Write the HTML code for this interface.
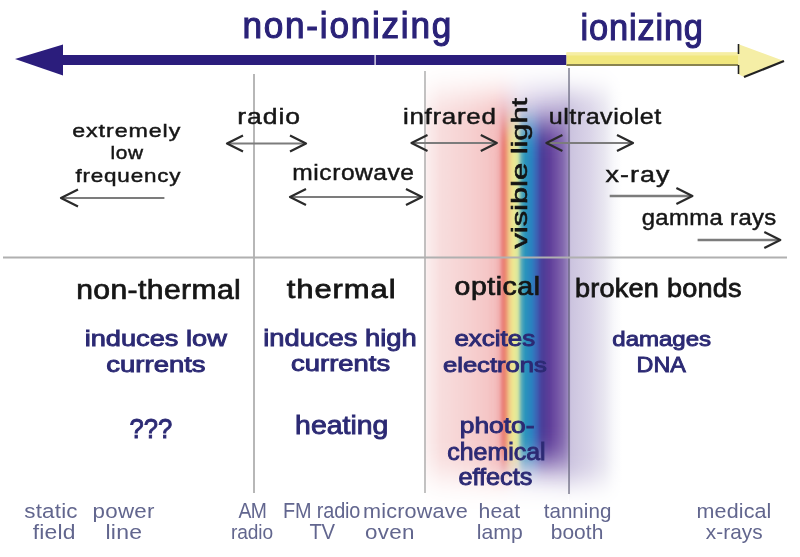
<!DOCTYPE html>
<html><head><meta charset="utf-8"><style>
html,body{margin:0;padding:0;background:#fff;}
svg{display:block;filter:blur(0.3px);}
text{font-family:"Liberation Sans",sans-serif;}
</style></head><body>
<svg width="800" height="557" viewBox="0 0 800 557">
<rect width="800" height="557" fill="#fff"/>

<defs>
 <linearGradient id="soft" x1="425" y1="0" x2="569" y2="0" gradientUnits="userSpaceOnUse"><stop offset="0.0000" stop-color="#fbf0f0"/>
<stop offset="0.1042" stop-color="#f8dede"/>
<stop offset="0.3125" stop-color="#f6d0d0"/>
<stop offset="0.4861" stop-color="#f4c2c2"/>
<stop offset="0.5347" stop-color="#eebcc4"/>
<stop offset="0.6597" stop-color="#d8c8e0"/>
<stop offset="0.7986" stop-color="#c4b8dc"/>
<stop offset="0.9965" stop-color="#b4a8d0"/>
<stop offset="1.0000" stop-color="#b4a8d0"/></linearGradient>
 <linearGradient id="lav" x1="569" y1="0" x2="622" y2="0" gradientUnits="userSpaceOnUse"><stop offset="0.0000" stop-color="#cac2de"/>
<stop offset="0.3962" stop-color="#dad4e8"/>
<stop offset="0.6604" stop-color="#e8e6f0"/>
<stop offset="0.8491" stop-color="#f8f8fb"/>
<stop offset="1.0000" stop-color="#ffffff"/></linearGradient>
 <linearGradient id="core" x1="494" y1="0" x2="569" y2="0" gradientUnits="userSpaceOnUse"><stop offset="0.0000" stop-color="#f4c0c0"/>
<stop offset="0.0667" stop-color="#f2b0b0"/>
<stop offset="0.1200" stop-color="#e87a74"/>
<stop offset="0.1600" stop-color="#ec9070"/>
<stop offset="0.2000" stop-color="#f0c888"/>
<stop offset="0.2533" stop-color="#f0e890"/>
<stop offset="0.3200" stop-color="#d8e8a0"/>
<stop offset="0.3600" stop-color="#60b0b8"/>
<stop offset="0.4133" stop-color="#2894bc"/>
<stop offset="0.5067" stop-color="#2c80c0"/>
<stop offset="0.5733" stop-color="#3c60b4"/>
<stop offset="0.6400" stop-color="#4a3c98"/>
<stop offset="0.7333" stop-color="#5c3c98"/>
<stop offset="0.8267" stop-color="#7050a4"/>
<stop offset="0.9200" stop-color="#8268ae"/>
<stop offset="0.9933" stop-color="#9c88c0"/>
<stop offset="1.0000" stop-color="#9c88c0"/></linearGradient>
 <filter id="mb" x="-50%" y="-50%" width="200%" height="200%"><feGaussianBlur stdDeviation="16"/></filter>
 <filter id="mb2" x="-50%" y="-50%" width="200%" height="200%"><feGaussianBlur stdDeviation="14"/></filter>
 <mask id="m1" maskUnits="userSpaceOnUse" x="0" y="0" width="800" height="557">
  <rect x="395" y="95" width="265" height="380" fill="#fff" filter="url(#mb)"/>
 </mask>
 <mask id="m2" maskUnits="userSpaceOnUse" x="0" y="0" width="800" height="557">
  <rect x="470" y="125" width="160" height="335" fill="#fff" filter="url(#mb2)"/>
 </mask>
 <filter id="mb3" x="-50%" y="-50%" width="200%" height="200%"><feGaussianBlur stdDeviation="12"/></filter>
 <mask id="m3" maskUnits="userSpaceOnUse" x="0" y="0" width="800" height="557">
  <rect x="520" y="92" width="140" height="390" fill="#fff" filter="url(#mb3)"/>
 </mask>
 <filter id="bl" x="-20%" y="-20%" width="140%" height="140%"><feGaussianBlur stdDeviation="0.8"/></filter>
</defs>
<g mask="url(#m1)"><rect x="425" y="40" width="144" height="480" fill="url(#soft)" filter="url(#bl)"/></g>
<g mask="url(#m3)"><rect x="569" y="40" width="60" height="480" fill="url(#lav)"/></g>
<g mask="url(#m2)"><rect x="490" y="40" width="79" height="480" fill="url(#core)" filter="url(#bl)"/></g>

<line x1="254" y1="74" x2="254" y2="493" stroke="#7c7c7c" stroke-width="1.1"/>
<line x1="425" y1="71" x2="425" y2="493" stroke="#9a9a9a" stroke-width="1.2"/>
<line x1="569" y1="68" x2="569" y2="494" stroke="#50506a" stroke-width="1.1"/>
<line x1="3" y1="257.5" x2="787" y2="257.5" stroke="#b0b0b0" stroke-width="2.2"/>
<rect x="60" y="55" width="506.5" height="10" fill="#2b1d7c"/>
<rect x="374.5" y="54" width="1.2" height="12" fill="#fff"/>
<polygon points="15,59 63,44.5 63,75.5" fill="#2b1d7c"/>
<rect x="566.5" y="52.5" width="172" height="13.5" fill="#f1e77e"/>
<rect x="566.5" y="52.5" width="172" height="3" fill="#f6eea4"/>
<rect x="566.5" y="64" width="172" height="2" fill="#8a8450"/>
<polygon points="738,44 784,61 744,77 738,74" fill="#f5eea6"/>
<line x1="784" y1="61" x2="744" y2="77" stroke="#222" stroke-width="2.2"/>
<line x1="738.5" y1="44" x2="738.5" y2="54" stroke="#222" stroke-width="1.6"/>
<line x1="738.5" y1="65" x2="738.5" y2="74" stroke="#222" stroke-width="1.6"/>
<path d="M164.4,198 L63,198" stroke="#7c7c7c" stroke-width="2.2" fill="none"/><path d="M78,189.5 L61,198 L78,206.5" stroke="#2a2a2a" stroke-width="2.2" fill="none" stroke-linejoin="round"/>
<path d="M229,143.5 L304,143.5" stroke="#7c7c7c" stroke-width="2.2" fill="none"/><path d="M243,135.5 L227,143.5 L243,151.5 M290,135.5 L306,143.5 L290,151.5" stroke="#2a2a2a" stroke-width="2.2" fill="none" stroke-linejoin="round"/>
<path d="M292,197 L420,197" stroke="#7c7c7c" stroke-width="2.2" fill="none"/><path d="M306,189 L290,197 L306,205 M406,189 L422,197 L406,205" stroke="#2a2a2a" stroke-width="2.2" fill="none" stroke-linejoin="round"/>
<path d="M413.5,143 L494.8,143" stroke="#7c7c7c" stroke-width="2.2" fill="none"/><path d="M427.5,135 L411.5,143 L427.5,151 M480.8,135 L496.8,143 L480.8,151" stroke="#2a2a2a" stroke-width="2.2" fill="none" stroke-linejoin="round"/>
<path d="M548.4,143 L631,143" stroke="#7c7c7c" stroke-width="2.2" fill="none"/><path d="M562.4,135 L546.4,143 L562.4,151 M617,135 L633,143 L617,151" stroke="#2a2a2a" stroke-width="2.2" fill="none" stroke-linejoin="round"/>
<path d="M609.7,196 L690.4,196" stroke="#7c7c7c" stroke-width="2.4" fill="none"/><path d="M676.4,188 L692.4,196 L676.4,204" stroke="#2a2a2a" stroke-width="2.2" fill="none" stroke-linejoin="round"/>
<path d="M697.6,240 L778.3,240" stroke="#7c7c7c" stroke-width="2.4" fill="none"/><path d="M764.3,232 L780.3,240 L764.3,248" stroke="#2a2a2a" stroke-width="2.2" fill="none" stroke-linejoin="round"/>
<text transform="translate(244.75,38.15) scale(0.9698,1)" x="-2.36" y="0" letter-spacing="1.810" font-size="36.25" font-weight="normal" fill="#2a2278" stroke="#2a2278" stroke-width="1.1">non-ionizing</text>
<text transform="translate(582.75,39.75) scale(0.9496,1)" x="-2.36" y="0" letter-spacing="0.872" font-size="36.25" font-weight="normal" fill="#2a2278" stroke="#2a2278" stroke-width="1.1">ionizing</text>
<text transform="translate(239.03,123.98) scale(1.2061,1)" x="-1.43" y="0" letter-spacing="0.752" font-size="22.03" font-weight="normal" fill="#161616" stroke="#161616" stroke-width="0.45">radio</text>
<text transform="translate(73.12,137.18) scale(1.2432,1)" x="-0.75" y="0" letter-spacing="0.755" font-size="18.68" font-weight="normal" fill="#161616" stroke="#161616" stroke-width="0.45">extremely</text>
<text transform="translate(111.92,159.47) scale(1.1163,1)" x="-1.21" y="0" letter-spacing="0.502" font-size="18.68" font-weight="normal" fill="#161616" stroke="#161616" stroke-width="0.45">low</text>
<text transform="translate(75.92,181.68) scale(1.2020,1)" x="-0.28" y="0" letter-spacing="0.646" font-size="18.68" font-weight="normal" fill="#161616" stroke="#161616" stroke-width="0.45">frequency</text>
<text transform="translate(293.93,179.78) scale(1.1159,1)" x="-1.43" y="0" letter-spacing="0.479" font-size="22.03" font-weight="normal" fill="#161616" stroke="#161616" stroke-width="0.45">microwave</text>
<text transform="translate(404.62,124.18) scale(1.1801,1)" x="-1.43" y="0" letter-spacing="0.582" font-size="22.03" font-weight="normal" fill="#161616" stroke="#161616" stroke-width="0.45">infrared</text>
<text transform="translate(550.43,124.48) scale(1.1419,1)" x="-1.43" y="0" letter-spacing="0.419" font-size="22.03" font-weight="normal" fill="#161616" stroke="#161616" stroke-width="0.45">ultraviolet</text>
<text transform="translate(605.73,182.28) scale(1.2214,1)" x="-0.22" y="0" letter-spacing="0.839" font-size="22.03" font-weight="normal" fill="#161616" stroke="#161616" stroke-width="0.45">x-ray</text>
<text transform="translate(642.62,225.18) scale(1.0827,1)" x="-0.88" y="0" letter-spacing="0.356" font-size="22.03" font-weight="normal" fill="#161616" stroke="#161616" stroke-width="0.45">gamma rays</text>
<text transform="translate(78.17,298.82) scale(1.0770,1)" x="-1.82" y="0" letter-spacing="0.365" font-size="27.97" font-weight="normal" fill="#161616" stroke="#161616" stroke-width="0.75">non-thermal</text>
<text transform="translate(287.27,298.43) scale(1.1702,1)" x="-0.40" y="0" letter-spacing="0.772" font-size="26.49" font-weight="normal" fill="#161616" stroke="#161616" stroke-width="0.75">thermal</text>
<text transform="translate(455.68,295.43) scale(1.1352,1)" x="-1.00" y="0" letter-spacing="0.501" font-size="25.00" font-weight="normal" fill="#161616" stroke="#161616" stroke-width="0.75">optical</text>
<text transform="translate(576.67,296.93) scale(1.0463,1)" x="-1.69" y="0" letter-spacing="0.214" font-size="25.93" font-weight="normal" fill="#161616" stroke="#161616" stroke-width="0.75">broken bonds</text>
<text transform="translate(86.45,346.15) scale(1.2249,1)" x="-1.44" y="0" font-size="22.21" font-weight="normal" fill="#2c2a74" stroke="#2c2a74" stroke-width="0.9">induces low</text>
<text transform="translate(107.45,371.55) scale(1.2663,1)" x="-0.87" y="0" font-size="21.69" font-weight="normal" fill="#2c2a74" stroke="#2c2a74" stroke-width="0.9">currents</text>
<text transform="translate(265.05,346.15) scale(1.1872,1)" x="-1.50" y="0" font-size="23.03" font-weight="normal" fill="#2c2a74" stroke="#2c2a74" stroke-width="0.9">induces high</text>
<text transform="translate(292.15,370.95) scale(1.2740,1)" x="-0.86" y="0" font-size="21.54" font-weight="normal" fill="#2c2a74" stroke="#2c2a74" stroke-width="0.9">currents</text>
<text transform="translate(455.45,346.05) scale(1.2066,1)" x="-0.86" y="0" font-size="21.52" font-weight="normal" fill="#2c2a74" stroke="#2c2a74" stroke-width="0.9">excites</text>
<text transform="translate(443.95,371.55) scale(1.2302,1)" x="-0.83" y="0" font-size="20.83" font-weight="normal" fill="#2c2a74" stroke="#2c2a74" stroke-width="0.9">electrons</text>
<text transform="translate(613.25,345.85) scale(1.1695,1)" x="-0.82" y="0" font-size="20.55" font-weight="normal" fill="#2c2a74" stroke="#2c2a74" stroke-width="0.9">damages</text>
<text transform="translate(638.45,372.05) scale(1.0328,1)" x="-1.81" y="0" font-size="22.61" font-weight="normal" fill="#2c2a74" stroke="#2c2a74" stroke-width="0.9">DNA</text>
<text transform="translate(130.45,437.55) scale(0.9381,1)" x="-1.09" y="0" font-size="27.29" font-weight="normal" fill="#2c2a74" stroke="#2c2a74" stroke-width="0.9">???</text>
<text transform="translate(297.05,433.95) scale(1.0859,1)" x="-1.83" y="0" font-size="26.21" font-weight="normal" fill="#2c2a74" stroke="#2c2a74" stroke-width="0.9">heating</text>
<text transform="translate(461.45,433.35) scale(1.2042,1)" x="-1.43" y="0" font-size="21.93" font-weight="normal" fill="#2c2a74" stroke="#2c2a74" stroke-width="0.9">photo-</text>
<text transform="translate(448.25,459.55) scale(1.0566,1)" x="-0.94" y="0" font-size="23.59" font-weight="normal" fill="#2c2a74" stroke="#2c2a74" stroke-width="0.9">chemical</text>
<text transform="translate(459.45,484.95) scale(1.0770,1)" x="-0.94" y="0" font-size="23.45" font-weight="normal" fill="#2c2a74" stroke="#2c2a74" stroke-width="0.9">effects</text>
<text transform="translate(25.00,518.00) scale(1.1059,1)" x="-0.61" y="0" letter-spacing="0.166" font-size="20.26" font-weight="normal" fill="#62668e">static</text>
<text transform="translate(33.00,539.00) scale(1.1287,1)" x="-0.30" y="0" letter-spacing="0.192" font-size="20.26" font-weight="normal" fill="#62668e">field</text>
<text transform="translate(94.00,518.00) scale(1.1026,1)" x="-1.32" y="0" letter-spacing="0.232" font-size="20.26" font-weight="normal" fill="#62668e">power</text>
<text transform="translate(107.00,539.00) scale(1.1356,1)" x="-1.32" y="0" letter-spacing="0.221" font-size="20.26" font-weight="normal" fill="#62668e">line</text>
<text transform="translate(238.60,517.80) scale(0.8456,1)" x="0.00" y="0" letter-spacing="-0.945" font-size="22.90" font-weight="normal" fill="#62668f">AM</text>
<text transform="translate(232.20,539.00) scale(0.9453,1)" x="-1.32" y="0" letter-spacing="-0.106" font-size="20.26" font-weight="normal" fill="#62668e">radio</text>
<text transform="translate(284.60,518.00) scale(0.9291,1)" x="-1.71" y="0" letter-spacing="-0.151" font-size="21.38" font-weight="normal" fill="#62668f">FM radio</text>
<text transform="translate(309.80,539.30) scale(0.9455,1)" x="-0.43" y="0" letter-spacing="-0.264" font-size="21.45" font-weight="normal" fill="#62668f">TV</text>
<text transform="translate(364.50,518.00) scale(1.0686,1)" x="-1.32" y="0" letter-spacing="0.139" font-size="20.26" font-weight="normal" fill="#62668e">microwave</text>
<text transform="translate(366.00,539.00) scale(1.1062,1)" x="-0.81" y="0" letter-spacing="0.250" font-size="20.26" font-weight="normal" fill="#62668e">oven</text>
<text transform="translate(480.00,518.00) scale(1.0472,1)" x="-1.42" y="0" letter-spacing="0.103" font-size="20.26" font-weight="normal" fill="#62668e">heat</text>
<text transform="translate(478.00,539.00) scale(1.0459,1)" x="-1.32" y="0" letter-spacing="0.111" font-size="20.26" font-weight="normal" fill="#62668e">lamp</text>
<text transform="translate(544.00,518.00) scale(1.0153,1)" x="-0.30" y="0" letter-spacing="0.029" font-size="20.26" font-weight="normal" fill="#62668e">tanning</text>
<text transform="translate(552.00,539.00) scale(1.0350,1)" x="-1.32" y="0" letter-spacing="0.073" font-size="20.26" font-weight="normal" fill="#62668e">booth</text>
<text transform="translate(698.00,518.00) scale(1.0609,1)" x="-1.32" y="0" letter-spacing="0.117" font-size="20.26" font-weight="normal" fill="#62668e">medical</text>
<text transform="translate(706.00,539.00) scale(1.0282,1)" x="-0.20" y="0" letter-spacing="0.053" font-size="20.26" font-weight="normal" fill="#62668e">x-rays</text>
<text transform="translate(527.06,248.4) rotate(-90) scale(1.3657,1)" x="-0.11" y="0" font-size="22.57" fill="#141414" stroke="#141414" stroke-width="0.6">visible light</text>
</svg>
</body></html>
